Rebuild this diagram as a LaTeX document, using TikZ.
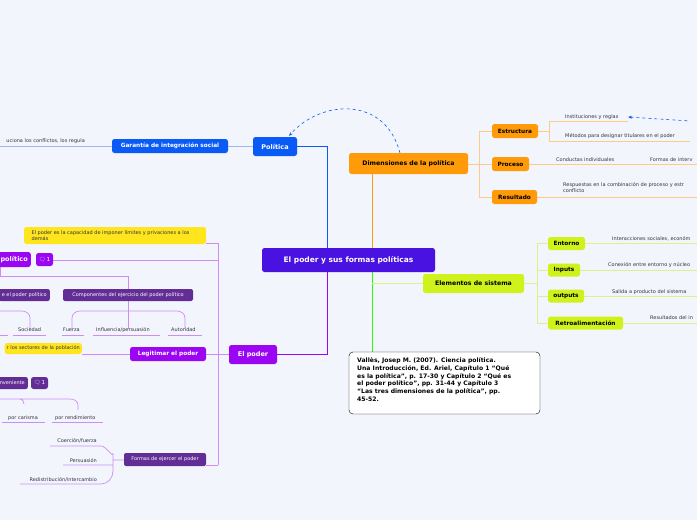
\documentclass[tikz,border=0pt]{standalone}
\usepackage{fontspec}
\setmainfont{DejaVu Sans}
\newfontfamily\emj{Noto Emoji}
\usetikzlibrary{arrows.meta}
\definecolor{bg}{HTML}{F3F5FD}
\definecolor{cen}{HTML}{4A12E0}
\definecolor{blu}{HTML}{0A5BF5}
\definecolor{blul}{HTML}{9DB8F5}
\definecolor{ora}{HTML}{FF9A08}
\definecolor{oral}{HTML}{FCCB8A}
\definecolor{lim}{HTML}{CFF21B}
\definecolor{liml}{HTML}{DDF08A}
\definecolor{pur}{HTML}{9A05F2}
\definecolor{purl}{HTML}{CE8DF5}
\definecolor{dpur}{HTML}{632D96}
\definecolor{yel}{HTML}{FFE51C}
\definecolor{txt}{HTML}{333344}
\begin{document}
\begin{tikzpicture}[x=1pt,y=-1pt,
 box/.style={rounded corners=2.5pt,inner sep=0pt,anchor=center,font=\bfseries\fontsize{6.5}{7}\selectfont},
 lbl/.style={font=\fontsize{5}{5.8}\selectfont,text=txt,inner sep=0pt,anchor=base west},
 sm/.style={rounded corners=2pt,inner sep=0pt,font=\fontsize{5}{5.8}\selectfont,text=white,fill=dpur}]
\useasboundingbox[fill=bg] (0,0) rectangle (697,520);
% connectors (behind)
\draw[blu,line width=1pt] (327,248) -- (327,146) -- (297,146);
\draw[blul,line width=0.8pt] (253,146) -- (228,146);
\draw[blul,line width=0.8pt] (112,146) -- (0,146);
\draw[ora,line width=1pt] (372,248) -- (372,174);
\draw[oral,line width=0.8pt] (468,164) -- (479,164) (479,131) -- (479,197) (479,131)--(492,131) (479,164)--(492,164) (479,197)--(492,197);
\draw[oral,line width=0.7pt] (538,131)--(549,131) (549,121)--(549,141) (549,121)--(628,121) (549,141)--(690,141) (529,164)--(697,164) (537,197)--(697,197);
\draw[green!80!lime,line width=1pt] (372,272) -- (372,352);
\draw[liml,line width=0.8pt] (372,283) -- (423,283);
\draw[liml,line width=0.8pt] (524,283)--(537,283) (537,243)--(537,323) (537,243)--(548,243) (537,270)--(548,270) (537,296)--(548,296) (537,323)--(548,323);
\draw[liml,line width=0.7pt] (585,243)--(697,243) (580,270)--(697,270) (584,296)--(697,296) (623,323)--(697,323);
\draw[pur,line width=1pt] (327,272) -- (327,354) -- (277,354);
\draw[purl,line width=0.8pt] (229,354)--(218,354) (218,243)--(218,465) (206,243)--(218,243) (53,260)--(218,260) (206,354)--(218,354) (206,465)--(218,465) (82,354)--(130,354);
\draw[purl,line width=0.7pt] (0,267)--(0,276)--(128,276)--(128,289) (128,301)--(128,329);
\draw[purl,line width=0.7pt] (72,329) -- (72,318) to[out=90,in=180] (80,311) -- (177,311) to[out=0,in=90] (185,318) -- (185,329);
\draw[purl,line width=0.7pt] (0,311)--(22,311) to[out=0,in=90] (30,318)--(30,329);
\draw[purl,line width=0.7pt] (62,335)--(84,335) (93,335)--(160,335) (168,335)--(202,335) (13,335)--(46,335) (0,335)--(8,335);
\draw[purl,line width=0.7pt] (0,399)--(20,399) to[out=0,in=90] (24,404) (20,399)--(70,399) to[out=0,in=90] (78,405)--(78,410);
\draw[purl,line width=0.7pt] (2,422)--(45,422) (52,422)--(103,422);
\draw[purl,line width=0.7pt] (124,460)--(113,460) (113,453) to[out=-90,in=0] (101,446)--(50,446) (113,453)--(113,471) to[out=-90,in=0] (101,484)--(20,484) (63,465)--(113,465);
% dashed arrows
\draw[blu,dashed,line width=0.6pt,-{Stealth[length=4pt]}] (400,153) .. controls (385,95) and (320,100) .. (289,136);
\draw[blu,dashed,line width=0.6pt,{Stealth[length=4pt]}-] (628,117) -- (690,121);
% nodes
\node[box,fill=cen,text=white,minimum width=173pt,minimum height=24pt,font=\bfseries\fontsize{7.5}{8}\selectfont] (c) at (348.5,260) {El poder y sus formas políticas};
\node[box,fill=blu,text=white,minimum width=44pt,minimum height=19pt] (pol) at (275,146.5) {Política};
\node[box,fill=blu,text=white,minimum width=116pt,minimum height=14pt,font=\bfseries\fontsize{5.8}{6}\selectfont] (gar) at (170,146) {Garantía de integración social};
\node[lbl,anchor=base east] (g1) at (85,142) {uciona los conflictos, los regula};
\node[box,fill=ora,text=black,minimum width=119pt,minimum height=21pt,font=\bfseries\fontsize{6.2}{7}\selectfont] (dim) at (408.5,163.5) {Dimensiones de la política};
\node[box,fill=ora,text=black,minimum width=46pt,minimum height=14pt,font=\bfseries\fontsize{5.8}{6}\selectfont] (est) at (515,131) {Estructura};
\node[box,fill=ora,text=black,minimum width=37pt,minimum height=14pt,font=\bfseries\fontsize{5.8}{6}\selectfont] (pro) at (510.5,164) {Proceso};
\node[box,fill=ora,text=black,minimum width=45pt,minimum height=14pt,font=\bfseries\fontsize{5.8}{6}\selectfont] (res) at (514.5,197) {Resultado};
\node[lbl] (e1) at (565,118) {Instituciones y reglas};
\node[lbl] (e2) at (565,137) {Métodos para designar titulares en el poder};
\node[lbl] (p1) at (556,161) {Conductas individuales};
\node[lbl] (p2) at (650,161) {Formas de interv};
\node[lbl,align=left,anchor=north west] (r1) at (563,182) {Respuestas en la combinación de proceso y estr\\conflicto};
\node[box,fill=lim,text=black,minimum width=101pt,minimum height=19pt,font=\bfseries\fontsize{6.2}{7}\selectfont] (ele) at (473.5,283.5) {Elementos de sistema};
\node[box,fill=lim,text=black,minimum width=37pt,minimum height=13pt,font=\bfseries\fontsize{5.8}{6}\selectfont] (ent) at (566.5,243.5) {Entorno};
\node[box,fill=lim,text=black,minimum width=32pt,minimum height=13pt,font=\bfseries\fontsize{5.8}{6}\selectfont] (inp) at (564,270) {Inputs};
\node[box,fill=lim,text=black,minimum width=36pt,minimum height=13pt,font=\bfseries\fontsize{5.8}{6}\selectfont] (out) at (566,296) {outputs};
\node[box,fill=lim,text=black,minimum width=75pt,minimum height=13pt,font=\bfseries\fontsize{5.8}{6}\selectfont] (ret) at (585.5,323) {Retroalimentación};
\node[lbl] (n1) at (612,240) {Interacciones sociales, económ};
\node[lbl] (n2) at (608,266) {Conexión entre entorno y núcleo};
\node[lbl] (n3) at (612,293) {Salida a producto del sistema};
\node[lbl] (n4) at (650,319) {Resultados del in};
\node[draw=black,fill=white,rounded corners=4pt,minimum width=191pt,minimum height=62pt,inner sep=0pt] (val) at (444.5,383) {};
\node[anchor=north west,align=left,inner sep=0pt,font=\bfseries\fontsize{6.1}{7.8}\selectfont] (valt) at (357,357.5) {Vallès, Josep M. (2007). Ciencia política.\\Una Introducción, Ed. Ariel, Capítulo 1 “Qué\\es la política”, p. 17-30 y Capítulo 2 “Qué es\\el poder político”, pp. 31-44 y Capítulo 3\\“Las tres dimensiones de la política”, pp.\\45-52.};
\node[box,fill=pur,text=white,minimum width=48pt,minimum height=19pt] (pod) at (253,354.5) {El poder};
\node[box,fill=yel,minimum width=182pt,minimum height=17pt,font=\fontsize{5}{5.8}\selectfont,text=txt,align=left] (y1) at (115,235.5) {El poder es la capacidad de imponer límites y privaciones a los\\demás\hspace*{150pt}};
\node[box,fill=pur,text=white,anchor=east,minimum height=15pt,inner xsep=3pt] (pp) at (31,259.5) {r político};
\node[box,fill=pur,text=white,minimum width=17pt,minimum height=13pt,font=\fontsize{5.5}{6}\selectfont] (b1) at (44.5,259.5) {{\emj 🗨}\,1};
\node[sm,anchor=east,minimum height=12pt,inner xsep=3pt] (s1) at (50,295) {e el poder político};
\node[sm,minimum width=130pt,minimum height=12pt] (s2) at (128,295) {Componentes del ejercicio del poder político};
\node[lbl] (t0) at (-4,331) {o};
\node[lbl] (t1) at (18,331) {Sociedad};
\node[lbl] (t2) at (63,331) {Fuerza};
\node[lbl] (t3) at (96,331) {Influencia/persuasión};
\node[lbl] (t4) at (171,331) {Autoridad};
\node[box,fill=yel,text=txt,anchor=east,minimum height=11pt,inner xsep=2pt,font=\fontsize{5}{5.8}\selectfont] (y2) at (82,348.5) {r los sectores de la población};
\node[box,fill=pur,text=white,minimum width=76pt,minimum height=14pt,font=\bfseries\fontsize{5.8}{6}\selectfont] (leg) at (168,354) {Legitimar el poder};
\node[sm,anchor=east,minimum height=12pt,inner xsep=3pt] (cv) at (28,383) {nveniente};
\node[box,fill=dpur,text=white,minimum width=17pt,minimum height=12pt,font=\fontsize{5.5}{6}\selectfont] (b2) at (39.5,383) {{\emj 🗨}\,1};
\node[lbl] (c1) at (8,419) {por carisma};
\node[lbl] (c2) at (55,419) {por rendimiento};
\node[sm,minimum width=82pt,minimum height=13pt] (for) at (165,459.5) {Formas de ejercer el poder};
\node[lbl,anchor=base east] (f1) at (97,442) {Coerción/fuerza};
\node[lbl,anchor=base east] (f2) at (97,462) {Persuasión};
\node[lbl,anchor=base east] (f3) at (97,481) {Redistribución/intercambio};
\end{tikzpicture}
\end{document}
